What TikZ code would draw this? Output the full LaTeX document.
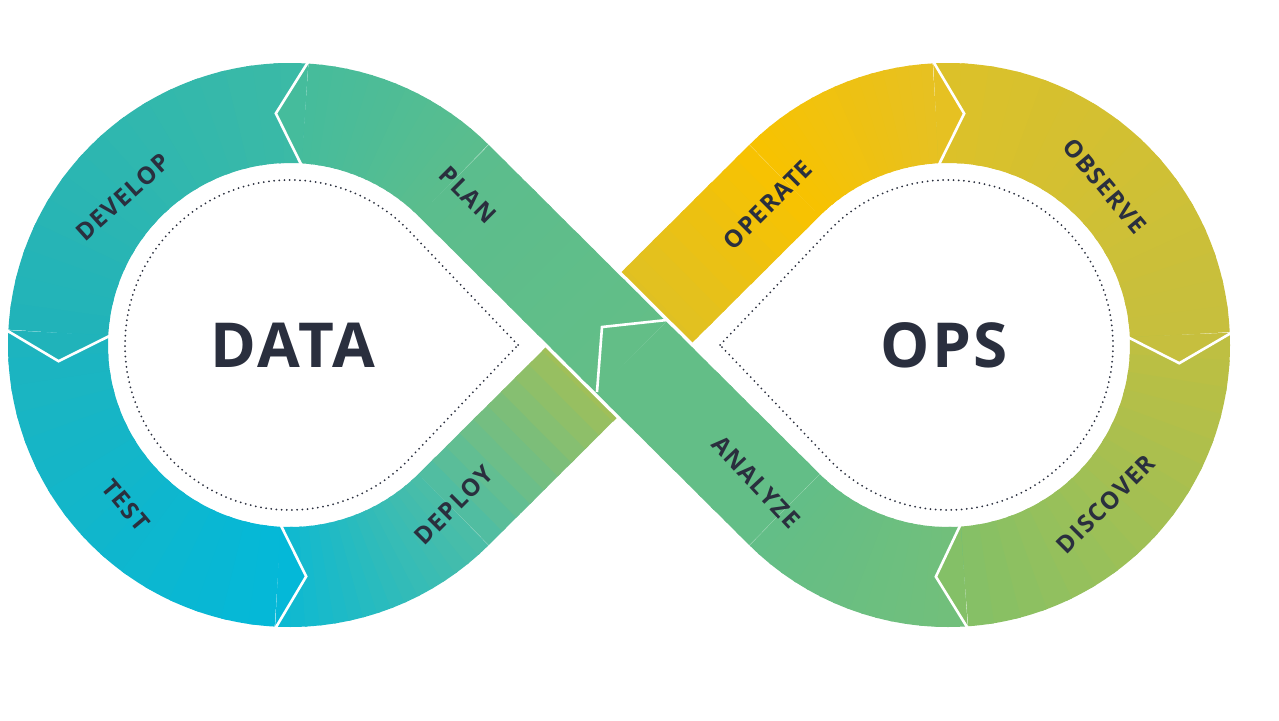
\documentclass[tikz,border=0pt]{standalone}
\usepackage{fontspec}
\setsansfont{Open Sans}
\newfontfamily\segfont{Open Sans}[LetterSpace=6]
\newfontfamily\bigfont{Open Sans}[LetterSpace=4]
\usetikzlibrary{calc}

\definecolor{inkdark}{HTML}{2A2F3E}
\definecolor{cPlanA}{HTML}{45BC9C}
\definecolor{cPlanB}{HTML}{5BBD8D}
\definecolor{cDevA}{HTML}{3CBAA5}
\definecolor{cDevB}{HTML}{20B3BA}
\definecolor{cTestA}{HTML}{1EB4BE}
\definecolor{cTestB}{HTML}{04B8D8}
\definecolor{cDepA}{HTML}{0AB9D4}
\definecolor{cDepB}{HTML}{4CBDA6}
\definecolor{cDepC}{HTML}{B5C045}
\definecolor{cOpA}{HTML}{D8C02E}
\definecolor{cOpB}{HTML}{F8C200}
\definecolor{cOpC}{HTML}{E6C122}
\definecolor{cObsA}{HTML}{DDC128}
\definecolor{cObsB}{HTML}{C6BF3E}
\definecolor{cDisA}{HTML}{C0BF40}
\definecolor{cDisB}{HTML}{84C067}
\definecolor{cAnaA}{HTML}{72BF7A}
\definecolor{cAnaB}{HTML}{63BE87}

% arc of the band in small steps, colour running from #4 to #5
\newcommand{\bandarc}[5]{%
  \foreach \i in {1,...,16}{
    \pgfmathsetmacro\aa{#2+(#3-#2)*(\i-1)/16}
    \pgfmathsetmacro\ab{#2+(#3-#2)*min(\i+0.25,16)/16}
    \pgfmathtruncatemacro\pc{100-100*(\i-0.5)/16}
    \draw[band,draw=#4!\pc!#5] ($(#1)+(\aa:232)$) arc[start angle=\aa,end angle=\ab,radius=232];
  }}
% straight piece of the band
\newcommand{\bandline}[4]{%
  \foreach \i in {1,...,12}{
    \pgfmathsetmacro\fa{(\i-1)/12}
    \pgfmathsetmacro\fb{min(\i+0.25,12)/12}
    \pgfmathtruncatemacro\pc{100-100*(\i-0.5)/12}
    \draw[band,draw=#3!\pc!#4] ($(#1)!\fa!(#2)$) -- ($(#1)!\fb!(#2)$);
  }}
% chevron between two steps, tip filled with the colour of the step before
\newcommand{\chev}[4]{%
  \fill[#4] ($(#1)+(#2:282)$) -- ($(#1)+(#3:232)$) -- ($(#1)+(#2:182)$) -- cycle;
  \draw[sep] ($(#1)+(#2:284)$) -- ($(#1)+(#3:232)$) -- ($(#1)+(#2:180)$);}

\begin{document}
\begin{tikzpicture}[x=1pt,y=-1pt,
    band/.style={line width=100pt,line cap=butt},
    sep/.style={white,line width=2.6pt,line join=miter},
    seglbl/.style={inkdark,font=\segfont\bfseries\fontsize{24}{24}\selectfont,inner sep=0pt},
    biglbl/.style={inkdark,font=\bigfont\bfseries\fontsize{62}{62}\selectfont,inner sep=0pt},
    drop/.style={inkdark,line width=2pt,line cap=round,dash pattern=on 0pt off 5.2pt}
]
\fill[white] (0,0) rectangle (1279,720);
\useasboundingbox (0,0) rectangle (1279,720);

% centres and tangent points
\coordinate (lc) at (290,345);
\coordinate (rc) at (948,345);
\coordinate (mid) at (619,345);
\coordinate (lt) at (453.5,180.4);
\coordinate (lb) at (453.5,509.6);
\coordinate (rt) at (784.5,180.4);
\coordinate (rb) at (784.5,509.6);
\coordinate (cut) at (631,357);

% lower layer: deploy and operate
\bandarc{lc}{93}{45.2}{cDepA}{cDepB}
\bandline{lb}{mid}{cDepB}{cDepC}
\bandline{mid}{rt}{cOpA}{cOpB}
\bandarc{rc}{225.2}{267}{cOpB}{cOpC}

% loops
\bandarc{lc}{273.7}{183}{cDevA}{cDevB}
\bandarc{lc}{183}{93}{cTestA}{cTestB}
\bandarc{rc}{267}{357.5}{cObsA}{cObsB}
\bandarc{rc}{357.5}{446}{cDisA}{cDisB}
\bandarc{rc}{446}{494.8}{cAnaA}{cAnaB}

% upper layer: plan and analyze
\draw[band,white,line width=107pt] (lt) -- (rb);
\bandarc{lc}{273.7}{314.8}{cPlanA}{cPlanB}
\bandline{lt}{cut}{cPlanB}{cAnaB}
\bandline{cut}{rb}{cAnaB}{cAnaB}

% chevrons
\chev{lc}{273.7}{266.5}{cPlanA}
\chev{lc}{183}{176}{cDevB}
\chev{lc}{93}{86}{cTestB}
\chev{rc}{267}{274}{cOpC}
\chev{rc}{357.5}{364.5}{cObsB}
\chev{rc}{86}{93}{cDisB}
\coordinate (chA) at (667,320);
\coordinate (chB) at (602,327);
\coordinate (chC) at (597,392);
\fill[cAnaB] (chA) -- (chB) -- (chC) -- cycle;
\draw[sep] (chA) -- (chB) -- (chC);

% dotted drops
\draw[drop] (518,345) -- ($(lc)+(-43.6:165)$) arc[start angle=-43.6,end angle=-316.4,radius=165] -- cycle;
\draw[drop] (720,345) -- ($(rc)+(223.6:165)$) arc[start angle=223.6,end angle=496.4,radius=165] -- cycle;

% labels
\node[biglbl] (data) at (293,345) {DATA};
\node[biglbl] (ops) at (944,345) {OPS};
\node[seglbl,rotate=42]  (develop)  at (123,197) {DEVELOP};
\node[seglbl,rotate=-45] (plan)     at (468,195) {PLAN};
\node[seglbl,rotate=-50] (test)     at (126,505) {TEST};
\node[seglbl,rotate=45]  (deploy)   at (454,505) {DEPLOY};
\node[seglbl,rotate=45]  (operate)  at (768,205) {OPERATE};
\node[seglbl,rotate=-50] (observe)  at (1105,186) {OBSERVE};
\node[seglbl,rotate=45]  (discover) at (1106,504) {DISCOVER};
\node[seglbl,rotate=-47] (analyze)  at (756,482) {ANALYZE};
\end{tikzpicture}
\end{document}
